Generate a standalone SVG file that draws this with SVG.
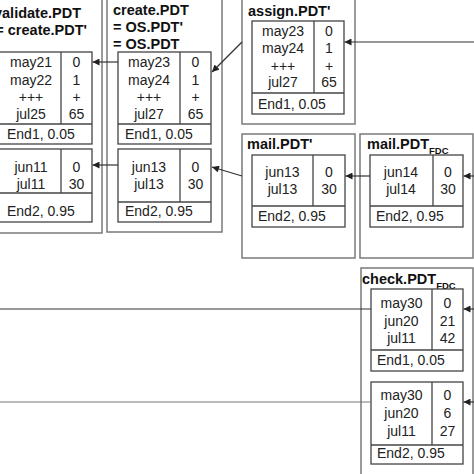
<svg xmlns="http://www.w3.org/2000/svg" width="474" height="474" viewBox="0 0 474 474">
<style>
.outer{fill:none;stroke:#7a7a7a;stroke-width:1.5}
.inner{fill:none;stroke:#444;stroke-width:1.3}
.t{font-family:"Liberation Sans",Arial,sans-serif;font-size:14px;fill:#222}
.c{text-anchor:middle}
.h{font-family:"Liberation Sans",Arial,sans-serif;font-size:14.5px;font-weight:bold;fill:#111}
.sub{font-size:9.5px}
.conn{stroke:#333;stroke-width:1.2;fill:none}
</style>
<defs>
<marker id="ah" viewBox="0 0 10 10" refX="10" refY="5" markerWidth="8" markerHeight="7" markerUnits="userSpaceOnUse" orient="auto">
<path d="M0,0 L10,5 L0,10 z" fill="#222"/>
</marker>
</defs>
<rect width="474" height="474" fill="#fff"/>

<g id="validate">
<rect class="outer" x="-5" y="-5" width="107" height="238"/>
<text class="h" x="81" y="17.5" text-anchor="end">validate.PDT</text>
<text class="h" x="87" y="34.5" text-anchor="end">= create.PDT'</text>
<rect class="inner" x="-2" y="52" width="94" height="92"/>
<line class="inner" x1="61" y1="52" x2="61" y2="124"/>
<line class="inner" x1="-2" y1="124" x2="92" y2="124"/>
<text class="t c" x="31" y="67">may21</text><text class="t c" x="76.5" y="67">0</text>
<text class="t c" x="31" y="84.5">may22</text><text class="t c" x="76.5" y="84.5">1</text>
<text class="t c" x="31" y="101.5">+++</text><text class="t c" x="76.5" y="101.5">+</text>
<text class="t c" x="31" y="119">jul25</text><text class="t c" x="76.5" y="119">65</text>
<text class="t" x="7" y="139">End1, 0.05</text>
<rect class="inner" x="-2" y="149" width="94" height="73"/>
<line class="inner" x1="61" y1="149" x2="61" y2="193"/>
<line class="inner" x1="-2" y1="193" x2="92" y2="193"/>
<text class="t c" x="31" y="172">jun11</text><text class="t c" x="76.5" y="172">0</text>
<text class="t c" x="31" y="188.5">jul11</text><text class="t c" x="76.5" y="188.5">30</text>
<text class="t" x="7" y="216">End2, 0.95</text>
</g>

<g id="create">
<rect class="outer" x="107" y="-5" width="115" height="237"/>
<text class="h" x="113" y="14.5">create.PDT</text>
<text class="h" x="113" y="32">= OS.PDT'</text>
<text class="h" x="113" y="48.5">= OS.PDT</text>
<rect class="inner" x="118" y="52" width="93" height="92"/>
<line class="inner" x1="180" y1="52" x2="180" y2="124"/>
<line class="inner" x1="118" y1="124" x2="211" y2="124"/>
<text class="t c" x="149" y="67">may23</text><text class="t c" x="195.5" y="67">0</text>
<text class="t c" x="149" y="84.5">may24</text><text class="t c" x="195.5" y="84.5">1</text>
<text class="t c" x="149" y="101.5">+++</text><text class="t c" x="195.5" y="101.5">+</text>
<text class="t c" x="149" y="119">jul27</text><text class="t c" x="195.5" y="119">65</text>
<text class="t" x="125" y="139">End1, 0.05</text>
<rect class="inner" x="118" y="149" width="93" height="73"/>
<line class="inner" x1="180" y1="149" x2="180" y2="202"/>
<line class="inner" x1="118" y1="202" x2="211" y2="202"/>
<text class="t c" x="149" y="171.5">jun13</text><text class="t c" x="195.5" y="171.5">0</text>
<text class="t c" x="149" y="188.5">jul13</text><text class="t c" x="195.5" y="188.5">30</text>
<text class="t" x="125" y="216">End2, 0.95</text>
</g>

<g id="assign">
<rect class="outer" x="242" y="-5" width="113" height="129"/>
<text class="h" x="248" y="15.5">assign.PDT'</text>
<rect class="inner" x="252" y="21" width="92" height="93"/>
<line class="inner" x1="314" y1="21" x2="314" y2="93"/>
<line class="inner" x1="252" y1="93" x2="344" y2="93"/>
<text class="t c" x="283" y="36">may23</text><text class="t c" x="329" y="36">0</text>
<text class="t c" x="283" y="53">may24</text><text class="t c" x="329" y="53">1</text>
<text class="t c" x="283" y="70.5">+++</text><text class="t c" x="329" y="70.5">+</text>
<text class="t c" x="283" y="87">jul27</text><text class="t c" x="329" y="87">65</text>
<text class="t" x="258" y="109">End1, 0.05</text>
</g>

<g id="mail-prime">
<rect class="outer" x="242" y="134" width="113" height="124"/>
<text class="h" x="247" y="148.5">mail.PDT'</text>
<rect class="inner" x="252" y="155" width="93" height="72"/>
<line class="inner" x1="313" y1="155" x2="313" y2="206"/>
<line class="inner" x1="252" y1="206" x2="345" y2="206"/>
<text class="t c" x="282.5" y="177">jun13</text><text class="t c" x="329" y="177">0</text>
<text class="t c" x="282.5" y="194">jul13</text><text class="t c" x="329" y="194">30</text>
<text class="t" x="258" y="221">End2, 0.95</text>
</g>

<g id="mail-fdc">
<rect class="outer" x="360" y="134" width="113" height="124"/>
<text class="h" x="367" y="148.5">mail.PDT<tspan class="sub" dy="5">FDC</tspan></text>
<rect class="inner" x="370" y="155" width="93" height="72"/>
<line class="inner" x1="433" y1="155" x2="433" y2="206"/>
<line class="inner" x1="370" y1="206" x2="463" y2="206"/>
<text class="t c" x="401" y="177">jun14</text><text class="t c" x="448" y="177">0</text>
<text class="t c" x="401" y="194">jul14</text><text class="t c" x="448" y="194">30</text>
<text class="t" x="376" y="221">End2, 0.95</text>
</g>

<g id="check-fdc">
<rect class="outer" x="361" y="268" width="112" height="215"/>
<text class="h" x="362" y="283.5">check.PDT<tspan class="sub" dy="5">FDC</tspan></text>
<rect class="inner" x="371" y="289" width="92" height="82"/>
<line class="inner" x1="432" y1="289" x2="432" y2="350"/>
<line class="inner" x1="371" y1="350" x2="463" y2="350"/>
<text class="t c" x="401.5" y="308">may30</text><text class="t c" x="447.5" y="308">0</text>
<text class="t c" x="401.5" y="326">jun20</text><text class="t c" x="447.5" y="326">21</text>
<text class="t c" x="401.5" y="343">jul11</text><text class="t c" x="447.5" y="343">42</text>
<text class="t" x="377" y="365">End1, 0.05</text>
<rect class="inner" x="371" y="382" width="92" height="82"/>
<line class="inner" x1="432" y1="382" x2="432" y2="445"/>
<line class="inner" x1="371" y1="445" x2="463" y2="445"/>
<text class="t c" x="401.5" y="400">may30</text><text class="t c" x="447.5" y="400">0</text>
<text class="t c" x="401.5" y="418">jun20</text><text class="t c" x="447.5" y="418">6</text>
<text class="t c" x="401.5" y="436">jul11</text><text class="t c" x="447.5" y="436">27</text>
<text class="t" x="377" y="458">End2, 0.95</text>
</g>

<g id="connectors">
<line class="conn" x1="118" y1="62" x2="92.5" y2="62" marker-end="url(#ah)"/>
<line class="conn" x1="118" y1="165" x2="92.5" y2="165" marker-end="url(#ah)"/>
<line class="conn" x1="242" y1="42" x2="212" y2="72" marker-end="url(#ah)"/>
<line class="conn" x1="242" y1="176" x2="212" y2="167" marker-end="url(#ah)"/>
<line class="conn" x1="370" y1="176" x2="345.5" y2="176" marker-end="url(#ah)"/>
<line class="conn" x1="480" y1="42" x2="344.5" y2="42" marker-end="url(#ah)"/>
<line class="conn" x1="480" y1="176" x2="463.5" y2="176" marker-end="url(#ah)"/>
<line class="conn" x1="480" y1="309" x2="463.5" y2="309" marker-end="url(#ah)"/>
<line class="conn" x1="480" y1="402" x2="463.5" y2="402" marker-end="url(#ah)"/>
<line class="conn" x1="371" y1="309" x2="-5" y2="309"/>
<line class="conn" x1="371" y1="402" x2="-5" y2="402" style="stroke:#777"/>
</g>
</svg>
